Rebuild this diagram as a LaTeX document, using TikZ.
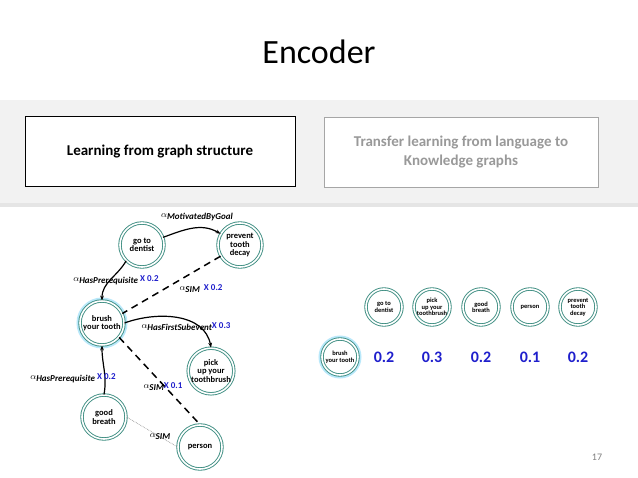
\documentclass[tikz,border=0pt]{standalone}
\usepackage{fontspec}
\setmainfont{Carlito}
\usetikzlibrary{arrows.meta}
\definecolor{teal1}{HTML}{3E8E82}
\definecolor{blu}{HTML}{1F1FCC}
\tikzset{
 kn/.style={circle,draw=teal1,line width=0.9pt,double=white,double distance=1.6pt,fill=white,inner sep=0pt,align=center,font=\bfseries\fontsize{8.5}{8.5}\selectfont},
 big/.style={kn,minimum size=44pt},
 sm/.style={kn,minimum size=36pt,font=\bfseries\fontsize{6.5}{6.5}\selectfont},
 glow/.style={preaction={draw=cyan!50,line width=7pt,opacity=0.55}},
 ar/.style={-{Stealth[length=5pt]},line width=1.2pt,black},
 da/.style={dashed,dash pattern=on 7pt off 5pt,line width=1.5pt},
 lab/.style={font=\bfseries\itshape\fontsize{9}{9}\selectfont,inner sep=1pt},
 num/.style={font=\bfseries\fontsize{16}{16}\selectfont,text=blu}
}
\newcommand{\xv}[1]{\textcolor{blu}{\upshape X #1}}
\begin{document}
\begin{tikzpicture}[x=1pt,y=-1pt]
\useasboundingbox[fill=white] (0,0) rectangle (638,478);
\node[font=\fontsize{34}{34}\selectfont] (title) at (319,52) {Encoder};
\fill[gray!20] (0,103) rectangle (638,207);
\fill[gray!10] (0,100) rectangle (638,203);
\node[draw=black,line width=1pt,fill=white,minimum width=270pt,minimum height=70pt,font=\bfseries\fontsize{15}{17}\selectfont] (b1) at (160,152) {Learning from graph structure};
\node[draw=gray!70,line width=0.8pt,fill=white,minimum width=274pt,minimum height=70pt,align=center,text=gray!80,font=\bfseries\fontsize{15}{19}\selectfont] (b2) at (461,152) {Transfer learning from language to\\Knowledge graphs};
% graph
\node[big] (gd) at (142,245) {go to\\dentist};
\node[big] (pt) at (240,245) {prevent\\tooth\\decay};
\node[big,glow] (bt) at (102,323) {brush\\your tooth};
\node[big] (pk) at (211,371) {pick\\up your\\toothbrush};
\node[big] (gb) at (104,417) {good\\breath};
\node[big] (ps) at (200,447) {person};
\draw[ar] (gd) to[out=20,in=150] (pt);
\draw[ar] (gd.225) to[out=240,in=90] (bt.north);
\draw[da] (pt.210) -- (bt.25);
\draw[ar] (bt.east) to[out=20,in=100] (pk.north);
\draw[ar] (gb.north) to[out=80,in=-90] (bt.south);
\draw[da] (bt.-40) -- (ps.north);
\draw[gray,densely dotted,line width=0.6pt] (gb.east) -- (ps.west);
\node[lab] (l1) at (197,217) {$\alpha$\raisebox{-2pt}{MotivatedByGoal}};
\node[lab] (l2) at (116,280) {$\alpha$\raisebox{-2pt}{HasPrerequisite} \xv{0.2}};
\node[lab] (l3) at (201,289) {$\alpha$\raisebox{-2pt}{SIM}\ \ \xv{0.2}};
\node[lab] (l4) at (186,327) {$\alpha$\raisebox{-2pt}{HasFirstSubevent}\xv{0.3}};
\node[lab] (l5) at (73,378) {$\alpha$\raisebox{-2pt}{HasPrerequisite} \xv{0.2}};
\node[lab] (l6) at (163,387) {$\alpha$\raisebox{-2pt}{SIM}\xv{0.1}};
\node[lab] (l7) at (160,437) {$\alpha$\raisebox{-2pt}{SIM}};
% right side
\node[sm] (r1) at (384,307) {go to\\dentist};
\node[sm] (r2) at (432,307) {pick\\up your\\toothbrush};
\node[sm] (r3) at (481,307) {good\\breath};
\node[sm] (r4) at (530,307) {person};
\node[sm] (r5) at (578,307) {prevent\\tooth\\decay};
\node[sm,glow] (r0) at (340,357) {brush\\your tooth};
\node[num] (n1) at (384,357) {0.2};
\node[num] (n2) at (432,357) {0.3};
\node[num] (n3) at (481,357) {0.2};
\node[num] (n4) at (530,357) {0.1};
\node[num] (n5) at (578,357) {0.2};
\node[font=\fontsize{10}{10}\selectfont,text=gray] (pg) at (597,457) {17};
\end{tikzpicture}
\end{document}
